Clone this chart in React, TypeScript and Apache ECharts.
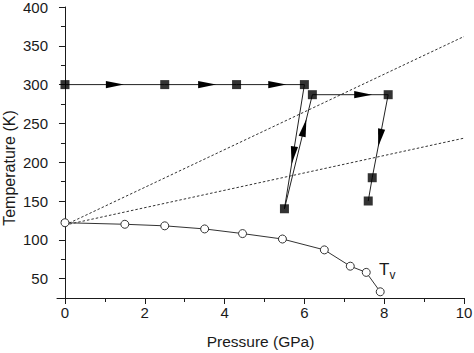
import React, { useEffect, useRef } from "react";
import * as echarts from "echarts";

// Path of the measured states (filled squares), in visiting order
const stepPressure = [0, 2.5, 4.3, 6.0, 5.5, 6.2, 8.1, 7.7, 7.6];
const stepTemp = [300, 300, 300, 300, 140, 287, 287, 180, 150];
// which segments carry an arrowhead, and where along the segment (fraction)
const stepArrow = [1, 1, 1, 1, 1, 1, 1, 0];
const arrowAt = [0.5, 0.59, 0.6, 0.57, 0.71, 0.67, 0.52, 0.5];

// T_v curve (open circles)
const tvPressure = [0, 1.5, 2.5, 3.5, 4.45, 5.45, 6.5, 7.15, 7.55, 7.9];
const tvTemp = [122, 120, 118, 114, 108, 101, 87, 66, 58, 33];

// dashed guide lines
const guideStartP = 0;
const guideStartT = 119;
const guideEndP = 10;
const guideUpperEndT = 362;
const guideLowerEndT = 231;

// axes
const xMin = -0.2;
const xMax = 10;
const xMajor = [0, 2, 4, 6, 8, 10];
const xMinor = [1, 3, 5, 7, 9];
const yMin = 25;
const yMax = 400;
const yMajor = [50, 100, 150, 200, 250, 300, 350, 400];
const yMinor = [75, 125, 175, 225, 275, 325, 375];

const xTitle = "Pressure (GPa)";
const yTitle = "Temperature (K)";

const FONT = "'Liberation Sans', Arial, sans-serif";
const INK = "#1a1a1a";

export default function App() {
  const ref = useRef<HTMLDivElement>(null);
  useEffect(() => {
    if (!ref.current) return;
    const chart = echarts.init(ref.current, undefined, { renderer: "svg" });

    const segments = [] as any[];
    for (let i = 0; i < stepPressure.length - 1; i++) {
      segments.push([
        stepPressure[i],
        stepTemp[i],
        stepPressure[i + 1],
        stepTemp[i + 1],
        arrowAt[i],
        stepArrow[i],
      ]);
    }

    const baseX = {
      type: "value",
      min: xMin,
      max: xMax,
      splitLine: { show: false },
    };
    const baseY = {
      type: "value",
      min: yMin,
      max: yMax,
      splitLine: { show: false },
    };

    chart.setOption({
      animation: false,
      backgroundColor: "#fff",
      grid: {
        left: 57,
        right: 10,
        top: 7,
        bottom: 55,
        containLabel: false,
        outerBoundsMode: "none",
      },
      xAxis: [
        {
          ...baseX,
          position: "bottom",
          name: xTitle,
          nameLocation: "middle",
          nameGap: 35,
          nameTextStyle: { fontFamily: FONT, fontSize: 15.5, color: INK },
          axisLine: { show: true, lineStyle: { color: INK, width: 1 } },
          axisTick: {
            show: true,
            customValues: xMajor,
            length: 6,
            lineStyle: { color: INK },
          },
          axisLabel: {
            customValues: xMajor,
            margin: 7,
            fontFamily: FONT,
            fontSize: 15,
            color: INK,
          },
        },
        {
          ...baseX,
          position: "bottom",
          axisLine: { show: false },
          axisTick: {
            show: true,
            customValues: xMinor,
            length: 4,
            lineStyle: { color: INK },
          },
          axisLabel: { show: false },
        },
      ],
      yAxis: [
        {
          ...baseY,
          position: "left",
          axisLine: { show: true, lineStyle: { color: INK, width: 1 } },
          axisTick: {
            show: true,
            customValues: yMajor,
            length: 6,
            lineStyle: { color: INK },
          },
          axisLabel: {
            customValues: yMajor,
            margin: 9,
            fontFamily: FONT,
            fontSize: 15,
            color: INK,
          },
        },
        {
          ...baseY,
          position: "left",
          axisLine: { show: false },
          axisTick: {
            show: true,
            customValues: yMinor,
            length: 4,
            lineStyle: { color: INK },
          },
          axisLabel: { show: false },
        },
      ],
      series: [
        {
          type: "line",
          name: "upper guide",
          xAxisIndex: 0,
          yAxisIndex: 0,
          symbol: "none",
          data: [
            [guideStartP, guideStartT],
            [guideEndP, guideUpperEndT],
          ],
          lineStyle: { color: "#333", width: 1, type: [2.5, 2] },
          z: 1,
        },
        {
          type: "line",
          name: "lower guide",
          xAxisIndex: 0,
          yAxisIndex: 0,
          symbol: "none",
          data: [
            [guideStartP, guideStartT],
            [guideEndP, guideLowerEndT],
          ],
          lineStyle: { color: "#333", width: 1, type: [2.5, 2] },
          z: 1,
        },
        {
          type: "line",
          name: "Tv",
          xAxisIndex: 0,
          yAxisIndex: 0,
          symbol: "circle",
          symbolSize: 8,
          showAllSymbol: true,
          data: tvPressure.map((p, i) => [p, tvTemp[i]]),
          lineStyle: { color: "#333", width: 1 },
          itemStyle: { color: "#fff", borderColor: "#333", borderWidth: 1 },
          z: 3,
        },
        {
          type: "custom",
          name: "path",
          xAxisIndex: 0,
          yAxisIndex: 0,
          encode: { x: [0, 2], y: [1, 3] },
          data: segments,
          clip: false,
          renderItem: (params: any, api: any) => {
            const p1 = api.coord([api.value(0), api.value(1)]);
            const p2 = api.coord([api.value(2), api.value(3)]);
            const f = api.value(4);
            const has = api.value(5);
            const dx = p2[0] - p1[0];
            const dy = p2[1] - p1[1];
            const len = Math.hypot(dx, dy) || 1;
            const ux = dx / len;
            const uy = dy / len;
            const nx = -uy;
            const ny = ux;
            const cx = p1[0] + dx * f;
            const cy = p1[1] + dy * f;
            const L = 18;
            const W = 3.6;
            const tip = [cx + (ux * L) / 2, cy + (uy * L) / 2];
            const bx = cx - (ux * L) / 2;
            const by = cy - (uy * L) / 2;
            const children: any[] = [
              {
                type: "line",
                shape: { x1: p1[0], y1: p1[1], x2: p2[0], y2: p2[1] },
                style: { stroke: "#222", lineWidth: 1 },
              },
            ];
            if (has) {
              children.push({
                type: "polygon",
                shape: {
                  points: [
                    tip,
                    [bx + nx * W, by + ny * W],
                    [bx - nx * W, by - ny * W],
                  ],
                },
                style: { fill: "#000" },
              });
            }
            return { type: "group", children };
          },
          z: 4,
        },
        {
          type: "scatter",
          name: "states",
          xAxisIndex: 0,
          yAxisIndex: 0,
          symbol: "rect",
          symbolSize: 9,
          data: stepPressure.map((p, i) => [p, stepTemp[i]]),
          itemStyle: { color: "#000" },
          z: 5,
        },
      ],
      graphic: [
        {
          type: "text",
          x: 9,
          y: 168,
          rotation: Math.PI / 2,
          style: {
            text: yTitle,
            font: `16px ${FONT}`,
            fill: INK,
            align: "center",
            verticalAlign: "middle",
          },
        },
        {
          type: "text",
          left: 379,
          top: 261,
          style: {
            text: "{t|T}{v|v}",
            rich: {
              t: { fontFamily: FONT, fontSize: 17, fill: INK },
              v: {
                fontFamily: FONT,
                fontSize: 12,
                fill: INK,
                padding: [10, 0, 0, 0],
              },
            },
          },
        },
      ],
    });
    return () => chart.dispose();
  }, []);
  return (
    <div
      ref={ref}
      style={{ position: "fixed", left: 0, top: 0, width: 474, height: 353 }}
    />
  );
}
